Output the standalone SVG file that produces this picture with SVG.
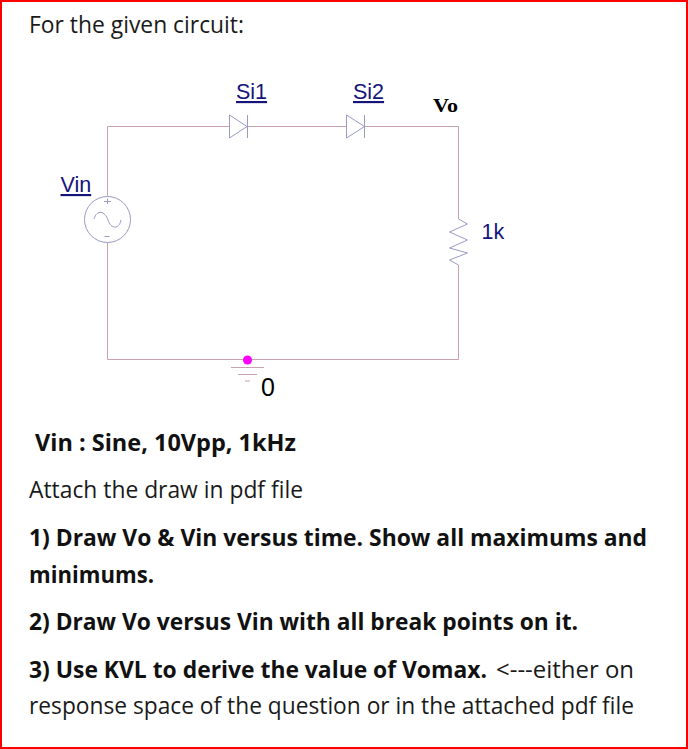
<svg xmlns="http://www.w3.org/2000/svg" width="688" height="749" viewBox="0 0 688 749">
<style>
text{font-family:"Open Sans","Noto Sans",sans-serif;fill:#1a1a1a}
.t{font-size:23px}
.b{font-size:23px;font-weight:700;fill:#111}
.p{font-family:"Liberation Sans",Arial,sans-serif;font-size:21.500px;fill:#14147a}
.w{fill:none;stroke:#c9a3ab;stroke-width:1}
.s{fill:none;stroke:#9a9ac4;stroke-width:1}
</style>
<rect width="688" height="749" fill="#fff"/>
<rect x="1" y="1" width="686" height="747" fill="none" stroke="#f00" stroke-width="2"/>
<text class="t" x="29" y="33" textLength="215" lengthAdjust="spacingAndGlyphs">For the given circuit:</text>
<g id="connectors">
<path class="w" d="M229.500 126.500H107.500V196M107.500 243V359.500H458.500V265M458.500 219V126.500H365M346 126.500H247"/>
</g>
<g id="Si1">
<path class="s" d="M229.500 115L247 126.500L229.500 138ZM247.500 115V138"/>
<text class="p" x="236" y="99" text-decoration="underline">Si1</text>
</g>
<g id="Si2">
<path class="s" d="M346.500 115L364.500 126.500L346.500 138ZM364.500 115V138"/>
<text class="p" x="353" y="99" text-decoration="underline">Si2</text>
</g>
<g id="Vin">
<circle class="s" cx="107.500" cy="219.500" r="23"/>
<path class="s" d="M94 219C97 209 105 211 108 220C111 229 119 230 121 220M104 201.500H111M104.500 236.500H109.500M107.500 198.500V204"/>
<text class="p" x="60.500" y="192" text-decoration="underline">Vin</text>
</g>
<g id="R1">
<path class="s" d="M458.500 219L467.500 224L449.500 232L467.500 240L449.500 248L467.500 253L449.500 260L458.500 265"/>
<text class="p" x="481.500" y="239">1k</text>
</g>
<g id="Vo">
<text x="433" y="112" style="font-family:'Liberation Serif',serif;font-size:19px;font-weight:700;fill:#000" textLength="25" lengthAdjust="spacingAndGlyphs">Vo</text>
</g>
<g id="GND">
<path class="w" d="M231 367.500H264M238 374.500H257M245 381H250"/>
<circle cx="247.500" cy="360" r="4.500" fill="#f0f"/>
<text x="261" y="396" style="font-family:'Liberation Sans',sans-serif;font-size:25px;fill:#000">0</text>
</g>
<text class="b" x="35" y="451" textLength="261" lengthAdjust="spacingAndGlyphs">Vin : Sine, 10Vpp, 1kHz</text>
<text class="t" x="29" y="498" textLength="274" lengthAdjust="spacingAndGlyphs">Attach the draw in pdf file</text>
<text class="b" x="29" y="546" textLength="618" lengthAdjust="spacingAndGlyphs">1) Draw Vo &amp; Vin versus time. Show all maximums and</text>
<text class="b" x="29" y="583" textLength="125" lengthAdjust="spacingAndGlyphs">minimums.</text>
<text class="b" x="29" y="630" textLength="549" lengthAdjust="spacingAndGlyphs">2) Draw Vo versus Vin with all break points on it.</text>
<text class="b" x="29" y="678" textLength="458" lengthAdjust="spacingAndGlyphs">3) Use KVL to derive the value of Vomax.</text>
<text class="t" x="496" y="678" textLength="138" lengthAdjust="spacingAndGlyphs">&lt;---either on</text>
<text class="t" x="29" y="714" textLength="605" lengthAdjust="spacingAndGlyphs">response space of the question or in the attached pdf file</text>
</svg>
